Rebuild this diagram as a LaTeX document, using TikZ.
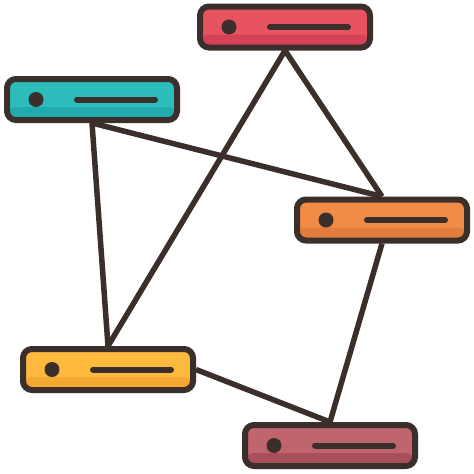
\documentclass[tikz,border=0pt]{standalone}
\usetikzlibrary{backgrounds}
\definecolor{ol}{HTML}{3B2F2C}
\definecolor{redA}{HTML}{E85362}
\definecolor{redB}{HTML}{D6425A}
\definecolor{tealA}{HTML}{2DBDBD}
\definecolor{tealB}{HTML}{22ABAE}
\definecolor{oraA}{HTML}{F28B46}
\definecolor{oraB}{HTML}{E27D3D}
\definecolor{yelA}{HTML}{FDBA3F}
\definecolor{yelB}{HTML}{F4A731}
\definecolor{marA}{HTML}{C0646E}
\definecolor{marB}{HTML}{A94F5B}
\tikzset{
  devbox/.style 2 args={draw=ol, line width=6pt, rounded corners=9pt,
    minimum width=170pt, minimum height=41pt, inner sep=0pt, fill=#1,
    path picture={\fill[#2] (path picture bounding box.south west) rectangle ([yshift=13pt]path picture bounding box.south east);}},
  link/.style={draw=ol, line width=5.5pt},
  slot/.style={draw=ol, line width=6pt, line cap=round}
}
\newcommand{\devdeco}[1]{%
  \fill[ol] ([xshift=-56pt]#1.center) circle (7.5pt);
  \draw[slot] ([xshift=-15pt]#1.center) -- ([xshift=63pt]#1.center);
}
\begin{document}
\begin{tikzpicture}[x=1pt,y=-1pt]
\useasboundingbox (0,0) rectangle (474,474);
\node[devbox={redA}{redB}] (r) at (285,27) {};
\node[devbox={tealA}{tealB}] (t) at (92,99.5) {};
\node[devbox={oraA}{oraB}] (o) at (382,220) {};
\node[devbox={yelA}{yelB}] (y) at (108,369.5) {};
\node[devbox={marA}{marB}] (m) at (330,445.5) {};
\devdeco{r}
\devdeco{t}
\devdeco{o}
\devdeco{y}
\devdeco{m}
\begin{pgfonlayer}{background}
\draw[link] (r.south) -- (y.north);
\draw[link] (r.south) -- (o.north);
\draw[link] (t.south) -- (y.north);
\draw[link] (t.south) -- (o.north);
\draw[link] (o.south) -- (m.north);
\draw[link] (y.east) -- (m.north);
\end{pgfonlayer}
\end{tikzpicture}
\end{document}
